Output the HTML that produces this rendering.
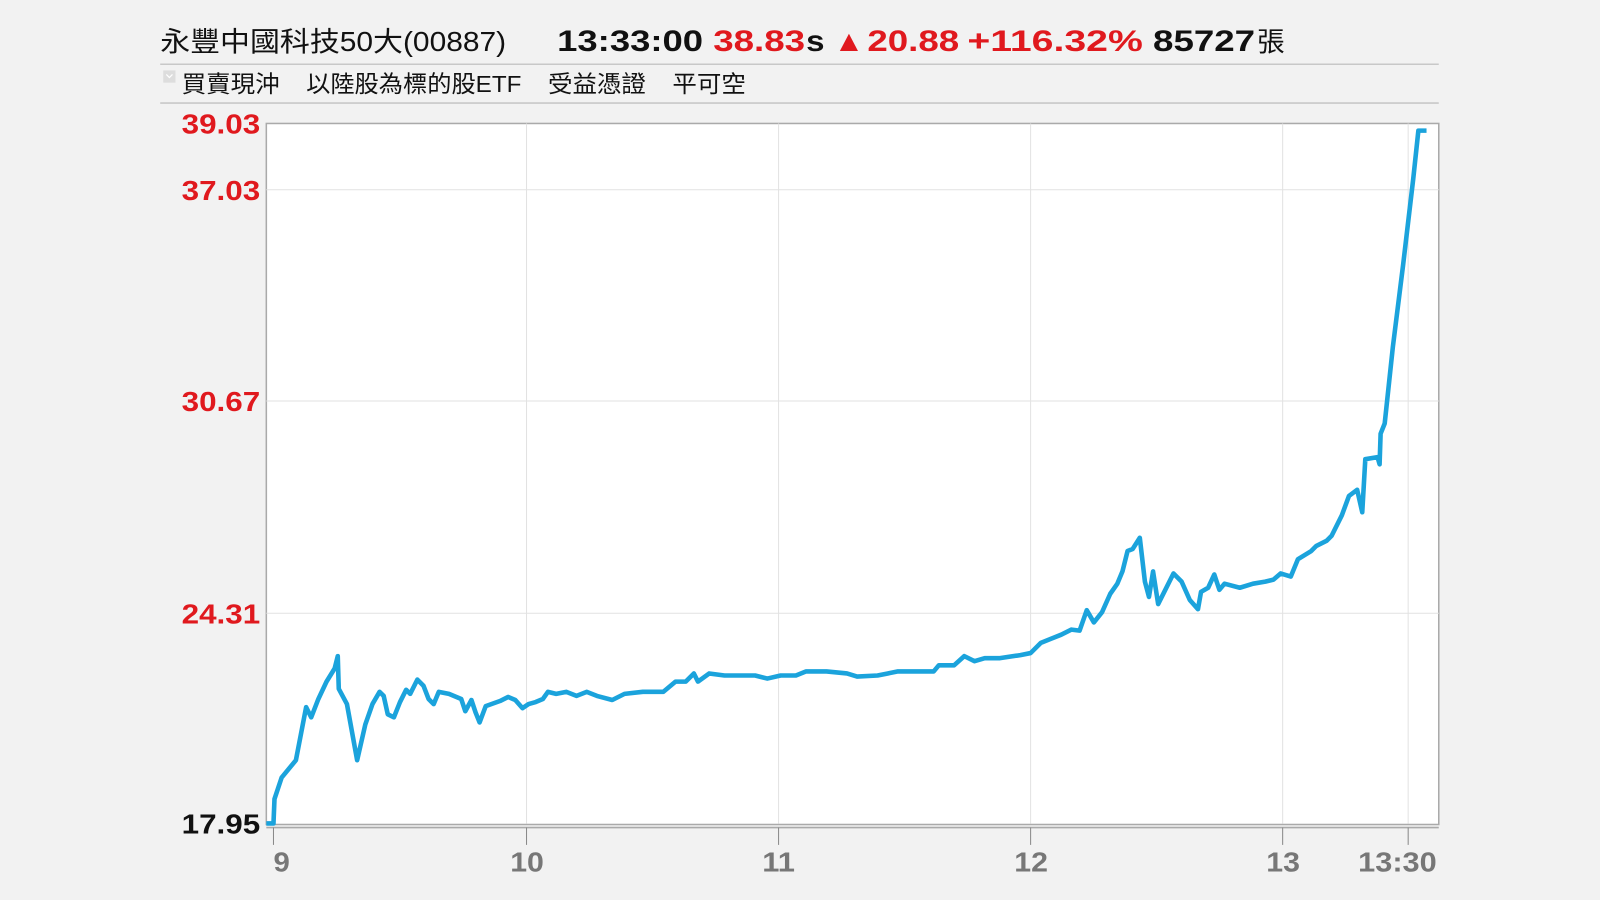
<!DOCTYPE html>
<html><head><meta charset="utf-8"><style>
html,body{margin:0;padding:0;background:#f2f2f2;width:1600px;height:900px;overflow:hidden}
svg{display:block}
text{font-family:"Liberation Sans","Noto Sans CJK TC",sans-serif}
</style></head><body>
<svg width="1600" height="900" viewBox="0 0 1568 882" xmlns="http://www.w3.org/2000/svg">
<rect width="1568" height="882" fill="#f2f2f2"/>
<text x="157" y="50" font-size="27" fill="#111" textLength="339" lengthAdjust="spacingAndGlyphs">永豐中國科技50大(00887)</text>
<g font-size="29" font-weight="bold">
<text x="546" y="50" fill="#111" textLength="143" lengthAdjust="spacingAndGlyphs">13:33:00</text>
<text x="699" y="50" fill="#e0191e" textLength="90" lengthAdjust="spacingAndGlyphs">38.83</text>
<text x="790" y="50" fill="#111" textLength="18" lengthAdjust="spacingAndGlyphs">s</text>
<text x="817" y="50" fill="#e0191e" textLength="30" lengthAdjust="spacingAndGlyphs">▲</text>
<text x="850" y="50" fill="#e0191e" textLength="90" lengthAdjust="spacingAndGlyphs">20.88</text>
<text x="948" y="50" fill="#e0191e" textLength="172" lengthAdjust="spacingAndGlyphs">+116.32%</text>
<text x="1130" y="50" fill="#111" textLength="100" lengthAdjust="spacingAndGlyphs">85727</text>
</g>
<text x="1232" y="50" font-size="27" fill="#111">張</text>
<line x1="157" y1="63" x2="1410" y2="63" stroke="#c8c8c8" stroke-width="1.5"/>
<line x1="157" y1="101" x2="1410" y2="101" stroke="#c8c8c8" stroke-width="1.5"/>
<rect x="160" y="69" width="12" height="12" fill="#ddd"/>
<path d="M163 73 l3 3 l3 -3" stroke="#fff" fill="none" stroke-width="1.2"/>
<g font-size="23" fill="#111">
<text x="178" y="90" textLength="96" lengthAdjust="spacingAndGlyphs">買賣現沖</text>
<text x="300" y="90" textLength="211" lengthAdjust="spacingAndGlyphs">以陸股為標的股ETF</text>
<text x="537" y="90" textLength="96" lengthAdjust="spacingAndGlyphs">受益憑證</text>
<text x="659" y="90" textLength="72" lengthAdjust="spacingAndGlyphs">平可空</text>
</g>
<rect x="261" y="121" width="1149" height="687" fill="#fff" stroke="#aaa" stroke-width="1.5"/>
<g stroke="#e2e2e2" stroke-width="1">
<line x1="516" y1="121" x2="516" y2="807"/><line x1="763" y1="121" x2="763" y2="807"/>
<line x1="1010" y1="121" x2="1010" y2="807"/><line x1="1257" y1="121" x2="1257" y2="807"/>
<line x1="1380" y1="121" x2="1380" y2="807"/>
<line x1="261" y1="186" x2="1410" y2="186"/><line x1="261" y1="393" x2="1410" y2="393"/>
<line x1="261" y1="601" x2="1410" y2="601"/>
</g>
<line x1="261" y1="811" x2="1410" y2="811" stroke="#aaa" stroke-width="1.5"/>
<g stroke="#888" stroke-width="1"><line x1="268" y1="811" x2="268" y2="828"/><line x1="516" y1="811" x2="516" y2="828"/><line x1="763" y1="811" x2="763" y2="828"/><line x1="1010" y1="811" x2="1010" y2="828"/><line x1="1257" y1="811" x2="1257" y2="828"/><line x1="1380" y1="811" x2="1380" y2="828"/></g>
<g font-size="27" font-weight="bold" fill="#e0191e">
<text x="178" y="131" textLength="77" lengthAdjust="spacingAndGlyphs">39.03</text><text x="178" y="196" textLength="77" lengthAdjust="spacingAndGlyphs">37.03</text><text x="178" y="403" textLength="77" lengthAdjust="spacingAndGlyphs">30.67</text><text x="178" y="611" textLength="77" lengthAdjust="spacingAndGlyphs">24.31</text>
<text x="178" y="817" fill="#111" textLength="77" lengthAdjust="spacingAndGlyphs">17.95</text></g>
<g font-size="27" font-weight="bold" fill="#777">
<text x="268" y="854" textLength="16" lengthAdjust="spacingAndGlyphs">9</text><text x="500" y="854" textLength="33" lengthAdjust="spacingAndGlyphs">10</text><text x="747" y="854" textLength="32" lengthAdjust="spacingAndGlyphs">11</text><text x="994" y="854" textLength="33" lengthAdjust="spacingAndGlyphs">12</text><text x="1241" y="854" textLength="33" lengthAdjust="spacingAndGlyphs">13</text><text x="1331" y="854" textLength="77" lengthAdjust="spacingAndGlyphs">13:30</text></g>
<polyline fill="none" stroke="#1ba3dc" stroke-width="4.5" stroke-linejoin="round" points="261,807 268,807 269,783 276,762 290,745 300,693 305,703 312,685 320,668 328,655 331,643 332,675 340,690 350,745 358,710 365,690 372,678 376,682 380,700 386,703 392,688 398,676 402,680 409,666 415,672 420,685 425,690 430,678 440,680 452,685 456,697 462,686 466,698 470,708 476,692 490,687 498,683 505,686 512,694 518,690 525,688 532,685 537,678 545,680 555,678 565,682 575,678 585,682 600,686 612,680 630,678 650,678 662,668 672,668 680,660 684,668 695,660 710,662 740,662 752,665 765,662 780,662 790,658 810,658 830,660 840,663 860,662 870,660 880,658 915,658 920,652 935,652 945,643 955,648 965,645 980,645 1000,642 1010,640 1020,630 1030,626 1040,622 1050,617 1058,618 1065,598 1072,610 1080,600 1088,582 1095,572 1100,560 1105,540 1110,538 1117,527 1122,570 1126,585 1130,560 1135,592 1142,578 1150,562 1158,570 1166,588 1174,597 1177,580 1184,576 1190,563 1195,578 1200,572 1215,576 1228,572 1240,570 1248,568 1255,562 1265,565 1272,548 1285,540 1290,535 1300,530 1305,525 1315,505 1322,486 1330,480 1335,502 1338,450 1350,448 1352,455 1353,425 1357,415 1365,340 1375,260 1385,175 1390,128 1398,128"/>
</svg>
</body></html>
